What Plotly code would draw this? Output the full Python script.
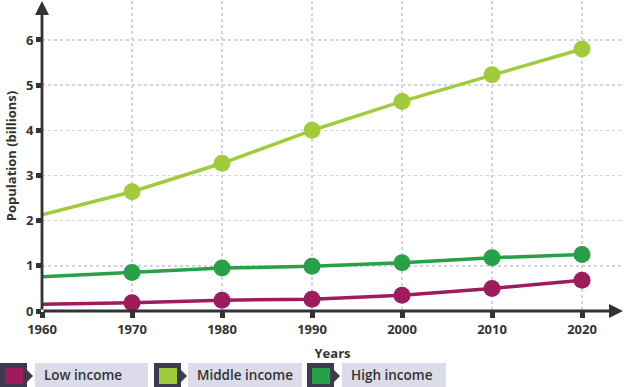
import plotly.graph_objects as go

years = [1960, 1970, 1980, 1990, 2000, 2010, 2020]
low_income = [0.15, 0.18, 0.24, 0.26, 0.35, 0.50, 0.68]
middle_income = [2.13, 2.64, 3.27, 4.00, 4.64, 5.23, 5.80]
high_income = [0.76, 0.85, 0.95, 0.99, 1.07, 1.18, 1.25]
y_ticks = [0, 1, 2, 3, 4, 5, 6]
series_names = ["Low income", "Middle income", "High income"]
series_colors = ["#9e1b5c", "#a0cc3c", "#27a048"]

W, H = 624, 387
L, R, T, B = 42, 1, 1, 76
PW, PH = W - L - R, H - T - B
FONT = "Open Sans"
DARK = "#333333"

def px(x):
    return (x - L) / PW

def py(y):
    return (H - B - y) / PH

fig = go.Figure()
for name, vals, col in zip(series_names, [low_income, middle_income, high_income], series_colors):
    sizes = [0] + [17] * (len(years) - 1)
    fig.add_trace(go.Scatter(
        x=years, y=vals, name=name, mode="lines+markers",
        line=dict(color=col, width=3.5),
        marker=dict(color=col, size=sizes, opacity=1, line=dict(width=0)),
        showlegend=False, cliponaxis=False, hoverinfo="skip",
    ))

shapes = []
annotations = []

# axes with arrows
annotations.append(dict(xref="paper", yref="paper", x=1.0, y=0, ax=-PW, ay=0,
                        showarrow=True, arrowhead=2, arrowsize=1.0, arrowwidth=2.8,
                        arrowcolor=DARK, text=""))
annotations.append(dict(xref="paper", yref="paper", x=0, y=1.0, ax=0, ay=PH,
                        showarrow=True, arrowhead=2, arrowsize=1.0, arrowwidth=2.8,
                        arrowcolor=DARK, text=""))

# legend
legend_items = [(0, 35, 148), (154, 188, 302), (307, 342, 446)]
y0, y1 = 363, 387
for (dx, lx0, lx1), name, col in zip(legend_items, series_names, series_colors):
    shapes.append(dict(type="rect", xref="paper", yref="paper",
                       x0=px(dx), x1=px(dx + 27), y0=py(y1), y1=py(y0),
                       fillcolor="#3b3a4f", line=dict(width=0)))
    shapes.append(dict(type="rect", xref="paper", yref="paper",
                       x0=px(dx + 5), x1=px(dx + 23), y0=py(384), y1=py(368),
                       fillcolor=col, line=dict(width=0)))
    shapes.append(dict(type="path", xref="paper", yref="paper",
                       path=f"M {px(dx+27)} {py(370)} L {px(dx+33)} {py(376)} L {px(dx+27)} {py(382)} Z",
                       fillcolor="#3b3a4f", line=dict(width=0)))
    shapes.append(dict(type="rect", xref="paper", yref="paper",
                       x0=px(lx0), x1=px(lx1), y0=py(y1), y1=py(y0),
                       fillcolor="#dcdbe9", line=dict(width=0)))
    annotations.append(dict(xref="paper", yref="paper", x=px(lx0 + 7), y=py(375),
                            xanchor="left", yanchor="middle", showarrow=False,
                            text=name, font=dict(family=FONT, size=13.5, color=DARK, weight=600)))

fig.update_layout(
    width=W, height=H,
    margin=dict(l=L, r=R, t=T, b=B, autoexpand=False),
    paper_bgcolor="white", plot_bgcolor="white",
    shapes=shapes, annotations=annotations,
    hovermode=False,
    xaxis=dict(
        range=[1960, 1960 + 581 / 9.0], tickvals=years, ticktext=[str(y) for y in years],
        showgrid=True, gridcolor="#d3d2e8", griddash="dot", gridwidth=1.5,
        zeroline=False, showline=False, automargin=False,
        ticks="outside", ticklen=6, tickwidth=5, tickcolor=DARK,
        tickfont=dict(family=FONT, size=13, color=DARK, weight=700),
        title=dict(text="Years", font=dict(family=FONT, size=13, color=DARK, weight=700), standoff=12),
    ),
    yaxis=dict(
        range=[0, 310 / 45.17], tickvals=y_ticks,
        showgrid=True, gridcolor="#d3d2e8", griddash="dot", gridwidth=1.5,
        zeroline=False, showline=False, automargin=False,
        ticks="outside", ticklen=5, tickwidth=5, tickcolor=DARK,
        tickfont=dict(family=FONT, size=13, color=DARK, weight=700),
        title=dict(text="Population (billions)", font=dict(family=FONT, size=13, color=DARK, weight=700), standoff=6),
    ),
)

fig.write_html("out.html", config={"displayModeBar": False, "staticPlot": True},
               post_script="document.body.style.margin='0';document.body.style.overflow='hidden';")
